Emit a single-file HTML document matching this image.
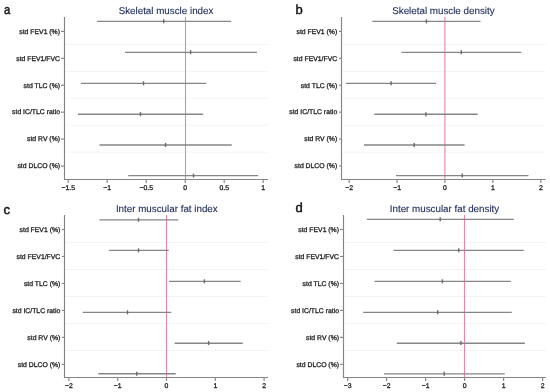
<!DOCTYPE html>
<html><head><meta charset="utf-8"><title>Forest plots</title>
<style>
html,body{margin:0;padding:0;background:#fff;}
svg{display:block;text-rendering:geometricPrecision;}
.t{font-family:"Liberation Sans", Arial, sans-serif;font-size:6.85px;fill:#262626;stroke:#262626;stroke-width:0.3px;}
.ti{font-family:"Liberation Sans", Arial, sans-serif;font-size:9.8px;fill:#1e2b5a;stroke:#1e2b5a;stroke-width:0.12px;}
.le{font-family:"Liberation Sans", Arial, sans-serif;font-size:13px;fill:#111;stroke:#111;stroke-width:0.45px;}
</style></head><body>
<svg width="550" height="392" viewBox="0 0 550 392">
<rect width="550" height="392" fill="#fff"/>
<line x1="65.0" x2="268" y1="44.46" y2="44.46" stroke="#f0f5f3" stroke-width="1"/>
<line x1="65.0" x2="268" y1="71.38" y2="71.38" stroke="#f0f5f3" stroke-width="1"/>
<line x1="65.0" x2="268" y1="98.30" y2="98.30" stroke="#f0f5f3" stroke-width="1"/>
<line x1="65.0" x2="268" y1="125.22" y2="125.22" stroke="#f0f5f3" stroke-width="1"/>
<line x1="65.0" x2="268" y1="152.14" y2="152.14" stroke="#f0f5f3" stroke-width="1"/>
<line x1="185.5" x2="185.5" y1="17" y2="179.5" stroke="#ec85a2" stroke-width="1.1"/>
<line x1="97" x2="231.1" y1="21.45" y2="21.45" stroke="#868686" stroke-width="1.19"/>
<line x1="163.7" x2="163.7" y1="19.35" y2="23.35" stroke="#686868" stroke-width="1.4"/>
<line x1="125" x2="257" y1="52.30" y2="52.30" stroke="#868686" stroke-width="1.31"/>
<line x1="190.6" x2="190.6" y1="50.20" y2="54.20" stroke="#686868" stroke-width="1.4"/>
<line x1="81" x2="206.2" y1="83.45" y2="83.45" stroke="#868686" stroke-width="1.19"/>
<line x1="143.5" x2="143.5" y1="81.35" y2="85.35" stroke="#686868" stroke-width="1.4"/>
<line x1="78" x2="203.2" y1="114.25" y2="114.25" stroke="#868686" stroke-width="1.35"/>
<line x1="140.5" x2="140.5" y1="112.15" y2="116.15" stroke="#686868" stroke-width="1.4"/>
<line x1="99.5" x2="231.7" y1="145.00" y2="145.00" stroke="#868686" stroke-width="1.55"/>
<line x1="165.5" x2="165.5" y1="142.90" y2="146.90" stroke="#686868" stroke-width="1.4"/>
<line x1="128.2" x2="258.2" y1="175.70" y2="175.70" stroke="#868686" stroke-width="1.31"/>
<line x1="193.5" x2="193.5" y1="173.60" y2="177.60" stroke="#686868" stroke-width="1.4"/>
<line x1="64.5" x2="64.5" y1="17" y2="180.0" stroke="#858585" stroke-width="1.15"/>
<line x1="64.0" x2="268" y1="179.5" y2="179.5" stroke="#858585" stroke-width="1.15"/>
<line x1="68.20" x2="68.20" y1="179.5" y2="183.0" stroke="#858585" stroke-width="1.15"/>
<text x="68.20" y="189.70" text-anchor="middle" class="t">−1.5</text>
<line x1="107.20" x2="107.20" y1="179.5" y2="183.0" stroke="#858585" stroke-width="1.15"/>
<text x="107.20" y="189.70" text-anchor="middle" class="t">−1</text>
<line x1="146.20" x2="146.20" y1="179.5" y2="183.0" stroke="#858585" stroke-width="1.15"/>
<text x="146.20" y="189.70" text-anchor="middle" class="t">−0.5</text>
<line x1="185.20" x2="185.20" y1="179.5" y2="183.0" stroke="#858585" stroke-width="1.15"/>
<text x="185.20" y="189.70" text-anchor="middle" class="t">0</text>
<line x1="224.20" x2="224.20" y1="179.5" y2="183.0" stroke="#858585" stroke-width="1.15"/>
<text x="224.20" y="189.70" text-anchor="middle" class="t">0.5</text>
<line x1="263.20" x2="263.20" y1="179.5" y2="183.0" stroke="#858585" stroke-width="1.15"/>
<text x="263.20" y="189.70" text-anchor="middle" class="t">1</text>
<line x1="61" x2="64.5" y1="31.40" y2="31.40" stroke="#858585" stroke-width="1.15"/>
<text x="60.0" y="33.70" text-anchor="end" class="t">std FEV1 (%)</text>
<line x1="61" x2="64.5" y1="58.32" y2="58.32" stroke="#858585" stroke-width="1.15"/>
<text x="60.0" y="60.62" text-anchor="end" class="t">std FEV1/FVC</text>
<line x1="61" x2="64.5" y1="85.24" y2="85.24" stroke="#858585" stroke-width="1.15"/>
<text x="60.0" y="87.54" text-anchor="end" class="t">std TLC (%)</text>
<line x1="61" x2="64.5" y1="112.16" y2="112.16" stroke="#858585" stroke-width="1.15"/>
<text x="60.0" y="114.46" text-anchor="end" class="t">std IC/TLC ratio</text>
<line x1="61" x2="64.5" y1="139.08" y2="139.08" stroke="#858585" stroke-width="1.15"/>
<text x="60.0" y="141.38" text-anchor="end" class="t">std RV (%)</text>
<line x1="61" x2="64.5" y1="166.00" y2="166.00" stroke="#858585" stroke-width="1.15"/>
<text x="60.0" y="168.30" text-anchor="end" class="t">std DLCO (%)</text>
<text x="166.0" y="14.0" text-anchor="middle" class="ti">Skeletal muscle index</text>
<text transform="translate(4.0 13.7) scale(0.86 1)" class="le">a</text>
<line x1="342.0" x2="545.5" y1="44.46" y2="44.46" stroke="#f0f5f3" stroke-width="1"/>
<line x1="342.0" x2="545.5" y1="71.38" y2="71.38" stroke="#f0f5f3" stroke-width="1"/>
<line x1="342.0" x2="545.5" y1="98.30" y2="98.30" stroke="#f0f5f3" stroke-width="1"/>
<line x1="342.0" x2="545.5" y1="125.22" y2="125.22" stroke="#f0f5f3" stroke-width="1"/>
<line x1="342.0" x2="545.5" y1="152.14" y2="152.14" stroke="#f0f5f3" stroke-width="1"/>
<line x1="444.9" x2="444.9" y1="17" y2="179.5" stroke="#ec85a2" stroke-width="1.1"/>
<line x1="372.3" x2="480.5" y1="21.45" y2="21.45" stroke="#868686" stroke-width="1.19"/>
<line x1="426.4" x2="426.4" y1="19.35" y2="23.35" stroke="#686868" stroke-width="1.4"/>
<line x1="401.4" x2="521.3" y1="52.30" y2="52.30" stroke="#868686" stroke-width="1.31"/>
<line x1="461.3" x2="461.3" y1="50.20" y2="54.20" stroke="#686868" stroke-width="1.4"/>
<line x1="345.9" x2="436" y1="83.45" y2="83.45" stroke="#868686" stroke-width="1.19"/>
<line x1="391.1" x2="391.1" y1="81.35" y2="85.35" stroke="#686868" stroke-width="1.4"/>
<line x1="374.3" x2="477.7" y1="114.25" y2="114.25" stroke="#868686" stroke-width="1.35"/>
<line x1="425.9" x2="425.9" y1="112.15" y2="116.15" stroke="#686868" stroke-width="1.4"/>
<line x1="364" x2="464.6" y1="145.00" y2="145.00" stroke="#868686" stroke-width="1.55"/>
<line x1="414.2" x2="414.2" y1="142.90" y2="146.90" stroke="#686868" stroke-width="1.4"/>
<line x1="396" x2="528.5" y1="175.70" y2="175.70" stroke="#868686" stroke-width="1.31"/>
<line x1="462.3" x2="462.3" y1="173.60" y2="177.60" stroke="#686868" stroke-width="1.4"/>
<line x1="341.5" x2="341.5" y1="17" y2="180.0" stroke="#858585" stroke-width="1.15"/>
<line x1="341.0" x2="545.5" y1="179.5" y2="179.5" stroke="#858585" stroke-width="1.15"/>
<line x1="349.20" x2="349.20" y1="179.5" y2="183.0" stroke="#858585" stroke-width="1.15"/>
<text x="349.20" y="189.70" text-anchor="middle" class="t">−2</text>
<line x1="397.10" x2="397.10" y1="179.5" y2="183.0" stroke="#858585" stroke-width="1.15"/>
<text x="397.10" y="189.70" text-anchor="middle" class="t">−1</text>
<line x1="445.00" x2="445.00" y1="179.5" y2="183.0" stroke="#858585" stroke-width="1.15"/>
<text x="445.00" y="189.70" text-anchor="middle" class="t">0</text>
<line x1="492.90" x2="492.90" y1="179.5" y2="183.0" stroke="#858585" stroke-width="1.15"/>
<text x="492.90" y="189.70" text-anchor="middle" class="t">1</text>
<line x1="540.80" x2="540.80" y1="179.5" y2="183.0" stroke="#858585" stroke-width="1.15"/>
<text x="540.80" y="189.70" text-anchor="middle" class="t">2</text>
<line x1="339" x2="341.5" y1="31.40" y2="31.40" stroke="#858585" stroke-width="1.15"/>
<text x="337.2" y="33.70" text-anchor="end" class="t">std FEV1 (%)</text>
<line x1="339" x2="341.5" y1="58.32" y2="58.32" stroke="#858585" stroke-width="1.15"/>
<text x="337.2" y="60.62" text-anchor="end" class="t">std FEV1/FVC</text>
<line x1="339" x2="341.5" y1="85.24" y2="85.24" stroke="#858585" stroke-width="1.15"/>
<text x="337.2" y="87.54" text-anchor="end" class="t">std TLC (%)</text>
<line x1="339" x2="341.5" y1="112.16" y2="112.16" stroke="#858585" stroke-width="1.15"/>
<text x="337.2" y="114.46" text-anchor="end" class="t">std IC/TLC ratio</text>
<line x1="339" x2="341.5" y1="139.08" y2="139.08" stroke="#858585" stroke-width="1.15"/>
<text x="337.2" y="141.38" text-anchor="end" class="t">std RV (%)</text>
<line x1="339" x2="341.5" y1="166.00" y2="166.00" stroke="#858585" stroke-width="1.15"/>
<text x="337.2" y="168.30" text-anchor="end" class="t">std DLCO (%)</text>
<text x="443.4" y="14.0" text-anchor="middle" class="ti">Skeletal muscle density</text>
<text transform="translate(295.4 13.6) scale(1.0 1)" class="le">b</text>
<line x1="65.0" x2="268" y1="242.59" y2="242.59" stroke="#f0f5f3" stroke-width="1"/>
<line x1="65.0" x2="268" y1="269.56" y2="269.56" stroke="#f0f5f3" stroke-width="1"/>
<line x1="65.0" x2="268" y1="296.53" y2="296.53" stroke="#f0f5f3" stroke-width="1"/>
<line x1="65.0" x2="268" y1="323.50" y2="323.50" stroke="#f0f5f3" stroke-width="1"/>
<line x1="65.0" x2="268" y1="350.47" y2="350.47" stroke="#f0f5f3" stroke-width="1"/>
<line x1="166.5" x2="166.5" y1="215" y2="377.5" stroke="#ec85a2" stroke-width="1.1"/>
<line x1="99.5" x2="178.2" y1="219.85" y2="219.85" stroke="#868686" stroke-width="1.43"/>
<line x1="138.5" x2="138.5" y1="217.75" y2="221.75" stroke="#686868" stroke-width="1.4"/>
<line x1="109.1" x2="168.7" y1="250.45" y2="250.45" stroke="#868686" stroke-width="1.19"/>
<line x1="138.5" x2="138.5" y1="248.35" y2="252.35" stroke="#686868" stroke-width="1.4"/>
<line x1="169.1" x2="240.7" y1="281.40" y2="281.40" stroke="#868686" stroke-width="1.23"/>
<line x1="204.4" x2="204.4" y1="279.30" y2="283.30" stroke="#686868" stroke-width="1.4"/>
<line x1="82.8" x2="171.3" y1="312.40" y2="312.40" stroke="#868686" stroke-width="1.23"/>
<line x1="127.5" x2="127.5" y1="310.30" y2="314.30" stroke="#686868" stroke-width="1.4"/>
<line x1="174.7" x2="242.8" y1="343.20" y2="343.20" stroke="#868686" stroke-width="1.39"/>
<line x1="208.6" x2="208.6" y1="341.10" y2="345.10" stroke="#686868" stroke-width="1.4"/>
<line x1="98.3" x2="175.7" y1="373.80" y2="373.80" stroke="#868686" stroke-width="1.39"/>
<line x1="136.8" x2="136.8" y1="371.70" y2="375.70" stroke="#686868" stroke-width="1.4"/>
<line x1="64.5" x2="64.5" y1="215" y2="378.0" stroke="#858585" stroke-width="1.15"/>
<line x1="64.0" x2="268" y1="377.5" y2="377.5" stroke="#858585" stroke-width="1.15"/>
<line x1="68.90" x2="68.90" y1="377.5" y2="381.0" stroke="#858585" stroke-width="1.15"/>
<text x="68.90" y="387.70" text-anchor="middle" class="t">−2</text>
<line x1="117.70" x2="117.70" y1="377.5" y2="381.0" stroke="#858585" stroke-width="1.15"/>
<text x="117.70" y="387.70" text-anchor="middle" class="t">−1</text>
<line x1="166.50" x2="166.50" y1="377.5" y2="381.0" stroke="#858585" stroke-width="1.15"/>
<text x="166.50" y="387.70" text-anchor="middle" class="t">0</text>
<line x1="215.30" x2="215.30" y1="377.5" y2="381.0" stroke="#858585" stroke-width="1.15"/>
<text x="215.30" y="387.70" text-anchor="middle" class="t">1</text>
<line x1="264.10" x2="264.10" y1="377.5" y2="381.0" stroke="#858585" stroke-width="1.15"/>
<text x="264.10" y="387.70" text-anchor="middle" class="t">2</text>
<line x1="61.8" x2="64.5" y1="229.50" y2="229.50" stroke="#858585" stroke-width="1.15"/>
<text x="60.3" y="231.80" text-anchor="end" class="t">std FEV1 (%)</text>
<line x1="61.8" x2="64.5" y1="256.47" y2="256.47" stroke="#858585" stroke-width="1.15"/>
<text x="60.3" y="258.77" text-anchor="end" class="t">std FEV1/FVC</text>
<line x1="61.8" x2="64.5" y1="283.44" y2="283.44" stroke="#858585" stroke-width="1.15"/>
<text x="60.3" y="285.74" text-anchor="end" class="t">std TLC (%)</text>
<line x1="61.8" x2="64.5" y1="310.41" y2="310.41" stroke="#858585" stroke-width="1.15"/>
<text x="60.3" y="312.71" text-anchor="end" class="t">std IC/TLC ratio</text>
<line x1="61.8" x2="64.5" y1="337.38" y2="337.38" stroke="#858585" stroke-width="1.15"/>
<text x="60.3" y="339.68" text-anchor="end" class="t">std RV (%)</text>
<line x1="61.8" x2="64.5" y1="364.35" y2="364.35" stroke="#858585" stroke-width="1.15"/>
<text x="60.3" y="366.65" text-anchor="end" class="t">std DLCO (%)</text>
<text x="166.8" y="212.0" text-anchor="middle" class="ti">Inter muscular fat index</text>
<text transform="translate(3.6 213.6) scale(1.0 1)" class="le">c</text>
<line x1="344.0" x2="546" y1="242.59" y2="242.59" stroke="#f0f5f3" stroke-width="1"/>
<line x1="344.0" x2="546" y1="269.56" y2="269.56" stroke="#f0f5f3" stroke-width="1"/>
<line x1="344.0" x2="546" y1="296.53" y2="296.53" stroke="#f0f5f3" stroke-width="1"/>
<line x1="344.0" x2="546" y1="323.50" y2="323.50" stroke="#f0f5f3" stroke-width="1"/>
<line x1="344.0" x2="546" y1="350.47" y2="350.47" stroke="#f0f5f3" stroke-width="1"/>
<line x1="464.5" x2="464.5" y1="215" y2="377.5" stroke="#ec85a2" stroke-width="1.1"/>
<line x1="366.9" x2="513.8" y1="219.40" y2="219.40" stroke="#868686" stroke-width="1.23"/>
<line x1="440.2" x2="440.2" y1="217.30" y2="221.30" stroke="#686868" stroke-width="1.4"/>
<line x1="393.4" x2="523.7" y1="250.30" y2="250.30" stroke="#868686" stroke-width="1.31"/>
<line x1="458.7" x2="458.7" y1="248.20" y2="252.20" stroke="#686868" stroke-width="1.4"/>
<line x1="374.5" x2="510.9" y1="281.40" y2="281.40" stroke="#868686" stroke-width="1.23"/>
<line x1="442.4" x2="442.4" y1="279.30" y2="283.30" stroke="#686868" stroke-width="1.4"/>
<line x1="363.2" x2="511.8" y1="312.30" y2="312.30" stroke="#868686" stroke-width="1.31"/>
<line x1="437.7" x2="437.7" y1="310.20" y2="314.20" stroke="#686868" stroke-width="1.4"/>
<line x1="396.8" x2="524.9" y1="343.20" y2="343.20" stroke="#868686" stroke-width="1.39"/>
<line x1="460.9" x2="460.9" y1="341.10" y2="345.10" stroke="#686868" stroke-width="1.4"/>
<line x1="383.9" x2="504.8" y1="373.85" y2="373.85" stroke="#868686" stroke-width="1.43"/>
<line x1="444.2" x2="444.2" y1="371.75" y2="375.75" stroke="#686868" stroke-width="1.4"/>
<line x1="343.5" x2="343.5" y1="215" y2="378.0" stroke="#858585" stroke-width="1.15"/>
<line x1="343.0" x2="546" y1="377.5" y2="377.5" stroke="#858585" stroke-width="1.15"/>
<line x1="347.60" x2="347.60" y1="377.5" y2="381.0" stroke="#858585" stroke-width="1.15"/>
<text x="347.60" y="387.70" text-anchor="middle" class="t">−3</text>
<line x1="386.60" x2="386.60" y1="377.5" y2="381.0" stroke="#858585" stroke-width="1.15"/>
<text x="386.60" y="387.70" text-anchor="middle" class="t">−2</text>
<line x1="425.60" x2="425.60" y1="377.5" y2="381.0" stroke="#858585" stroke-width="1.15"/>
<text x="425.60" y="387.70" text-anchor="middle" class="t">−1</text>
<line x1="464.60" x2="464.60" y1="377.5" y2="381.0" stroke="#858585" stroke-width="1.15"/>
<text x="464.60" y="387.70" text-anchor="middle" class="t">0</text>
<line x1="503.60" x2="503.60" y1="377.5" y2="381.0" stroke="#858585" stroke-width="1.15"/>
<text x="503.60" y="387.70" text-anchor="middle" class="t">1</text>
<line x1="542.60" x2="542.60" y1="377.5" y2="381.0" stroke="#858585" stroke-width="1.15"/>
<text x="542.60" y="387.70" text-anchor="middle" class="t">2</text>
<line x1="340" x2="343.5" y1="229.50" y2="229.50" stroke="#858585" stroke-width="1.15"/>
<text x="339.0" y="231.80" text-anchor="end" class="t">std FEV1 (%)</text>
<line x1="340" x2="343.5" y1="256.47" y2="256.47" stroke="#858585" stroke-width="1.15"/>
<text x="339.0" y="258.77" text-anchor="end" class="t">std FEV1/FVC</text>
<line x1="340" x2="343.5" y1="283.44" y2="283.44" stroke="#858585" stroke-width="1.15"/>
<text x="339.0" y="285.74" text-anchor="end" class="t">std TLC (%)</text>
<line x1="340" x2="343.5" y1="310.41" y2="310.41" stroke="#858585" stroke-width="1.15"/>
<text x="339.0" y="312.71" text-anchor="end" class="t">std IC/TLC ratio</text>
<line x1="340" x2="343.5" y1="337.38" y2="337.38" stroke="#858585" stroke-width="1.15"/>
<text x="339.0" y="339.68" text-anchor="end" class="t">std RV (%)</text>
<line x1="340" x2="343.5" y1="364.35" y2="364.35" stroke="#858585" stroke-width="1.15"/>
<text x="339.0" y="366.65" text-anchor="end" class="t">std DLCO (%)</text>
<text x="444.5" y="212.0" text-anchor="middle" class="ti">Inter muscular fat density</text>
<text transform="translate(295.6 211.6) scale(1.0 1)" class="le">d</text>
</svg>
</body></html>
